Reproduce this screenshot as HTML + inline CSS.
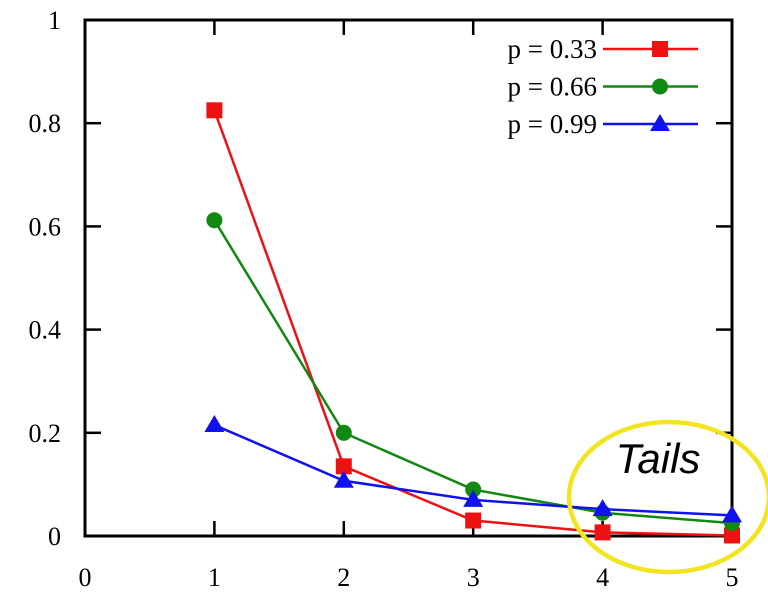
<!DOCTYPE html>
<html><head><meta charset="utf-8"><style>body{margin:0;background:#fff}svg{display:block}</style></head>
<body>
<svg id="c" width="768" height="599" xmlns="http://www.w3.org/2000/svg" font-family="Liberation Serif, serif"></svg>
<script>
const xCategories=[1,2,3,4,5];
const seriesRed=[0.825,0.135,0.03,0.007,0.001];
const seriesGreen=[0.612,0.2,0.09,0.045,0.025];
const seriesBlue=[0.215,0.107,0.07,0.052,0.04];
const seriesLabels=["p = 0.33","p = 0.66","p = 0.99"];
const xTicks=[0,1,2,3,4,5];
const yTicks=[0,0.2,0.4,0.6,0.8,1];
const yTickLabels=["0","0.2","0.4","0.6","0.8","1"];

const L=85,R=732,T=20,B=536;
const sx=v=>L+(R-L)*v/5, sy=v=>B-(B-T)*v;
const svg=document.getElementById('c');
const NS='http://www.w3.org/2000/svg';
function mk(tag,attrs,parent){const e=document.createElementNS(NS,tag);for(const k in attrs)e.setAttribute(k,attrs[k]);(parent||svg).appendChild(e);return e;}

let g=mk('g',{});


xTicks.forEach(v=>{
  const x=sx(v);
  if(v>0&&v<5){mk('line',{x1:x,x2:x,y1:B,y2:B-15,stroke:'#000','stroke-width':2.5},g);mk('line',{x1:x,x2:x,y1:T,y2:T+15,stroke:'#000','stroke-width':2.5},g);}
  const t=mk('text',{x:x,y:B+50,'text-anchor':'middle','font-size':26},g);t.textContent=v;
  
  
});
yTicks.forEach((v,i)=>{
  const y=sy(v);
  if(v>0&&v<1){mk('line',{x1:L,x2:L+16,y1:y,y2:y,stroke:'#000','stroke-width':2.5},g);mk('line',{x1:R,x2:R-16,y1:y,y2:y,stroke:'#000','stroke-width':2.5},g);}
  const t=mk('text',{x:L-24,y:y+9,'text-anchor':'end','font-size':26},g);t.textContent=yTickLabels[i];
  
  
});
mk('rect',{x:L,y:T,width:R-L,height:B-T,fill:'none',stroke:'#000','stroke-width':3},g);

function marker(type,x,y,col,p){
  if(type==='sq')return mk('rect',{x:x-8,y:y-8,width:16,height:16,fill:col},p);
  if(type==='ci')return mk('circle',{cx:x,cy:y,r:8,fill:col},p);
  return mk('polygon',{points:`${x},${y-10} ${x-10},${y+7} ${x+10},${y+7}`,fill:col},p);
}
const defs=[[seriesRed,'#ee1111','sq','series-p033'],[seriesGreen,'#118811','ci','series-p066'],[seriesBlue,'#1111ee','tr','series-p099']];
defs.forEach(([vals,col,type,name],k)=>{
  const sg=mk('g',{});
  
  
  mk('polyline',{points:vals.map((v,i)=>sx(xCategories[i])+','+sy(v)).join(' '),fill:'none',stroke:col,'stroke-width':2.5},sg);
  vals.forEach((v,i)=>{const m=marker(type,sx(xCategories[i]),sy(v),col,sg);});
  const ly=49+37.5*k;
  const lg=mk('g',{});
  
  
  const t=mk('text',{x:597,y:ly+9,'text-anchor':'end','font-size':27},lg);t.textContent=seriesLabels[k];
  mk('line',{x1:603,x2:698,y1:ly,y2:ly,stroke:col,'stroke-width':2.5},lg);
  marker(type,660,ly,col,lg);
});
const ann=mk('g',{});


mk('ellipse',{cx:669,cy:497,rx:100,ry:75,fill:'none',stroke:'#f2e41e','stroke-width':4.5},ann);
const tt=mk('text',{x:658,y:473,'text-anchor':'middle','font-size':42,'font-style':'italic','font-family':'Liberation Sans, sans-serif'},ann);tt.textContent='Tails';
</script>
</body></html>
